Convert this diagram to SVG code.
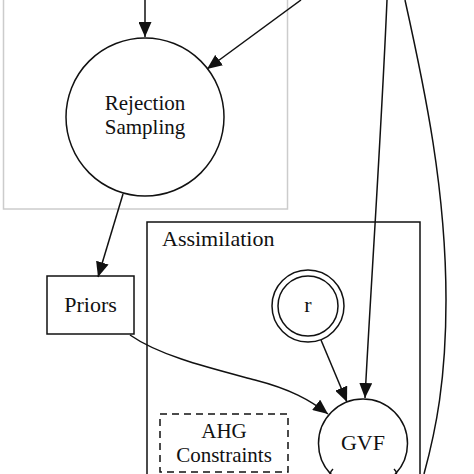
<svg xmlns="http://www.w3.org/2000/svg" width="474" height="474" viewBox="0 0 474 474">
<style>
.t{font-family:"Liberation Serif","Times New Roman",serif;font-size:22px;fill:#111;}
.t2{font-size:21px;}
.n{fill:none;stroke:#111;stroke-width:1.5;}
.e{fill:none;stroke:#111;stroke-width:1.5;}
</style>
<defs>
<marker id="ah" viewBox="0 0 15 13" refX="15" refY="6.5" markerWidth="15" markerHeight="13" markerUnits="userSpaceOnUse" orient="auto">
<path d="M0,0 L15,6.5 L0,13 z" fill="#111"/>
</marker>
</defs>
<rect width="474" height="474" fill="#fff"/>
<g id="cluster-top">
<rect x="3.5" y="-10" width="284" height="219" fill="none" stroke="#ccc" stroke-width="1.5"/>
</g>
<g id="cluster-assimilation">
<rect x="147" y="222" width="273" height="270" fill="none" stroke="#111" stroke-width="1.5"/>
<text class="t" x="162" y="246">Assimilation</text>
</g>
<g id="node-rejection">
<circle class="n" cx="145" cy="117" r="79"/>
<text class="t t2" x="145" y="110" text-anchor="middle">Rejection</text>
<text class="t t2" x="145" y="134" text-anchor="middle">Sampling</text>
</g>
<g id="node-priors">
<rect class="n" x="47" y="276" width="87" height="58"/>
<text class="t" x="90.5" y="312" text-anchor="middle">Priors</text>
</g>
<g id="node-r">
<circle class="n" cx="308" cy="306" r="36"/>
<circle class="n" cx="308" cy="306" r="30"/>
<text class="t" x="308" y="312" text-anchor="middle">r</text>
</g>
<g id="node-ahg">
<rect x="160" y="414" width="128" height="58" fill="none" stroke="#111" stroke-width="1.5" stroke-dasharray="7,5"/>
<text class="t t2" x="224" y="438" text-anchor="middle">AHG</text>
<text class="t t2" x="224" y="462" text-anchor="middle">Constraints</text>
</g>
<g id="node-gvf">
<circle class="n" cx="363" cy="443.5" r="44.5"/>
<text class="t" x="363" y="450" text-anchor="middle">GVF</text>
</g>
<g id="connectors">
<path class="e" d="M145,0 L145,37" marker-end="url(#ah)"/>
<path class="e" d="M301,0 L207,69" marker-end="url(#ah)"/>
<path class="e" d="M123,194 L98,277" marker-end="url(#ah)"/>
<path class="e" d="M130,335 C160,356 210,368 255,380 C290,389 310,400 328,414" marker-end="url(#ah)"/>
<path class="e" d="M321,340 L347,402" marker-end="url(#ah)"/>
<path class="e" d="M387,0 C381,140 370,300 365,398" marker-end="url(#ah)"/>
<path class="e" d="M405,0 C425,90 446,190 446,300 C446,380 436,430 424,474"/>
<path class="e" d="M333,469 C331,471 330,473 331,474"/>
<path class="e" d="M394,469 C396,471 397,473 396,474"/>
</g>
</svg>
